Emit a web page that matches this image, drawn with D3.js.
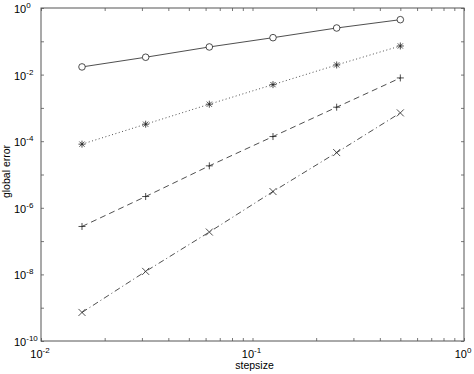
<!DOCTYPE html>
<html>
<head>
<meta charset="utf-8">
<script src="https://cdn.jsdelivr.net/npm/d3@7"></script>
<style>
  body { margin: 0; background: #fff; }
  text { font-family: "Liberation Sans", Arial, sans-serif; fill: #000; }
</style>
</head>
<body>
<svg id="chart" width="474" height="374"></svg>
<script>
// step sizes h = 1/64 ... 1/2
var stepsize = [0.015625, 0.03125, 0.0625, 0.125, 0.25, 0.5];

// global error for the four methods
var errCircle = [0.0170, 0.0332, 0.0676, 0.1285, 0.251, 0.446];
var errStar   = [8.15e-5, 3.24e-4, 1.29e-3, 5.0e-3, 1.95e-2, 7.24e-2];
var errPlus   = [2.75e-7, 2.18e-6, 1.82e-5, 1.38e-4, 1.05e-3, 7.94e-3];
var errCross  = [7.2e-10, 1.23e-8, 1.87e-7, 3.08e-6, 4.56e-5, 7.08e-4];

var xTickLabels = [-2, -1, 0];
var yTickLabels = [0, -2, -4, -6, -8, -10];

var margin = {top: 8, right: 10, bottom: 33, left: 41};
var width = 474 - margin.left - margin.right;
var height = 374 - margin.top - margin.bottom;

var svg = d3.select("#chart");
var g = svg.append("g").attr("transform", "translate(" + margin.left + "," + margin.top + ")");

var x = d3.scaleLog().domain([1e-2, 1]).range([0, width]);
var y = d3.scaleLog().domain([1e-10, 1]).range([height, 0]);

// tick positions
var xTicks = [];
[1e-2, 1e-1].forEach(function (d) {
    for (var k = 1; k <= 9; k++) xTicks.push(d * k);
});
xTicks.push(1);
var yTicks = [];
for (var e = 0; e >= -10; e--) yTicks.push(Math.pow(10, e));

function styleAxis(sel) {
    sel.select(".domain").remove();
    sel.selectAll("line").attr("stroke", "#555").attr("stroke-width", 0.8);
}

g.append("g").attr("transform", "translate(0," + height + ")")
    .call(d3.axisBottom(x).tickValues(xTicks).tickSizeInner(-3).tickSizeOuter(0).tickFormat(""))
    .call(styleAxis);
g.append("g")
    .call(d3.axisTop(x).tickValues(xTicks).tickSizeInner(-3).tickSizeOuter(0).tickFormat(""))
    .call(styleAxis);
g.append("g")
    .call(d3.axisLeft(y).tickValues(yTicks).tickSizeInner(-3).tickSizeOuter(0).tickFormat(""))
    .call(styleAxis);
g.append("g").attr("transform", "translate(" + width + ",0)")
    .call(d3.axisRight(y).tickValues(yTicks).tickSizeInner(-3).tickSizeOuter(0).tickFormat(""))
    .call(styleAxis);

// box
g.append("rect")
    .attr("width", width).attr("height", height)
    .attr("fill", "none").attr("stroke", "#555").attr("stroke-width", 1);

// tick labels 10^n
function powLabel(sel, e) {
    sel.append("tspan").text("10");
    sel.append("tspan").attr("dy", -5).attr("font-size", "8px").text(e === 0 ? "0" : "-" + Math.abs(e));
}

xTickLabels.forEach(function (e) {
    var t = g.append("text")
        .attr("x", x(Math.pow(10, e)) - 1)
        .attr("y", height + 17)
        .attr("font-size", "11px")
        .attr("text-anchor", "middle");
    powLabel(t, e);
});

yTickLabels.forEach(function (e) {
    var t = g.append("text")
        .attr("x", -27)
        .attr("y", y(Math.pow(10, e)) + 5)
        .attr("font-size", "11px")
        .attr("text-anchor", "start");
    powLabel(t, e);
});

// axis titles
g.append("text")
    .attr("x", width / 2 + 2)
    .attr("y", height + 28)
    .attr("font-size", "10.5px")
    .attr("text-anchor", "middle")
    .text("stepsize");

svg.append("text")
    .attr("transform", "translate(9.5," + (margin.top + height / 2 - 3) + ") rotate(-90)")
    .attr("font-size", "10.5px")
    .attr("text-anchor", "middle")
    .text("global error");

// series
var series = [
    {vals: errCircle, dash: null, marker: "circle"},
    {vals: errStar, dash: "1,2.5", marker: "star"},
    {vals: errPlus, dash: "6,4", marker: "plus"},
    {vals: errCross, dash: "6,3,1,3", marker: "cross"}
];

var line = d3.line()
    .x(function (d) { return x(d[0]); })
    .y(function (d) { return y(d[1]); });

function markerPath(type) {
    var s = 3.5;
    if (type === "plus") return "M" + -s + ",0H" + s + "M0," + -s + "V" + s;
    if (type === "cross") return "M" + -s + "," + -s + "L" + s + "," + s + "M" + -s + "," + s + "L" + s + "," + -s;
    if (type === "star") {
        var a = 2.6;
        return "M" + -s + ",0H" + s + "M0," + -s + "V" + s +
            "M" + -a + "," + -a + "L" + a + "," + a + "M" + -a + "," + a + "L" + a + "," + -a;
    }
    return d3.symbol().type(d3.symbolCircle).size(Math.PI * 3.3 * 3.3)();
}

series.forEach(function (s) {
    var pts = stepsize.map(function (h, i) { return [h, s.vals[i]]; });
    g.append("path")
        .datum(pts)
        .attr("fill", "none")
        .attr("stroke", "#222")
        .attr("stroke-width", 0.8)
        .attr("stroke-dasharray", s.dash)
        .attr("d", line);
    g.selectAll(null)
        .data(pts)
        .enter().append("path")
        .attr("transform", function (d) { return "translate(" + x(d[0]) + "," + y(d[1]) + ")"; })
        .attr("d", markerPath(s.marker))
        .attr("fill", s.marker === "circle" ? "#fff" : "none")
        .attr("stroke", "#222")
        .attr("stroke-width", 0.8);
});
</script>
</body>
</html>
